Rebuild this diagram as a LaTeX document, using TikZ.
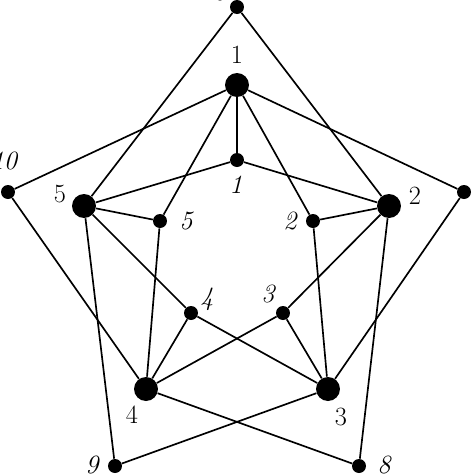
\documentclass[tikz,border=0pt]{standalone}
\begin{document}
\begin{tikzpicture}[x=0.02cm,y=-0.02cm,
  bigv/.style={circle,fill=black,inner sep=0pt,minimum size=0.48cm},
  smallv/.style={circle,fill=black,inner sep=0pt,minimum size=0.28cm},
  edge/.style={line width=0.95pt},
  biglab/.style={font=\fontsize{15}{17}\selectfont,inner sep=0pt},
  smlab/.style={font=\fontsize{15}{17}\selectfont\itshape,inner sep=0pt}]
\useasboundingbox (0,0) rectangle (474,474);
\clip (0,0) rectangle (474,474);
% vertices
\node[bigv] (B1) at (237,85) {};
\node[bigv] (B2) at (389,206) {};
\node[bigv] (B3) at (328,389) {};
\node[bigv] (B4) at (146,389) {};
\node[bigv] (B5) at (84,206) {};
\node[smallv] (i1) at (237,160) {};
\node[smallv] (i2) at (313,221) {};
\node[smallv] (i3) at (283,313) {};
\node[smallv] (i4) at (191,313) {};
\node[smallv] (i5) at (160,221) {};
\node[smallv] (o6) at (237,7) {};
\node[smallv] (o7) at (464,192) {};
\node[smallv] (o8) at (359,466) {};
\node[smallv] (o9) at (115,466) {};
\node[smallv] (o10) at (8,192) {};
% edges
\draw[edge] (B1) -- (o10);
\draw[edge] (B1) -- (o7);
\draw[edge] (B1) -- (i5);
\draw[edge] (B1) -- (i1);
\draw[edge] (B1) -- (i2);
\draw[edge] (o6) -- (B5);
\draw[edge] (o6) -- (B2);
\draw[edge] (i1) -- (B5);
\draw[edge] (i1) -- (B2);
\draw[edge] (B5) -- (i5);
\draw[edge] (B5) -- (i4);
\draw[edge] (B5) -- (o9);
\draw[edge] (B2) -- (i2);
\draw[edge] (B2) -- (i3);
\draw[edge] (B2) -- (o8);
\draw[edge] (o10) -- (B4);
\draw[edge] (o7) -- (B3);
\draw[edge] (i5) -- (B4);
\draw[edge] (i2) -- (B3);
\draw[edge] (i4) -- (B4);
\draw[edge] (i4) -- (B3);
\draw[edge] (i3) -- (B4);
\draw[edge] (i3) -- (B3);
\draw[edge] (B4) -- (o8);
\draw[edge] (B3) -- (o9);
% labels
\node[biglab] (L1) at (237,55) {1};
\node[biglab] (L2) at (415,196) {2};
\node[biglab] (L3) at (341,417) {3};
\node[biglab] (L4) at (132,415) {4};
\node[biglab] (L5) at (60,194) {5};
\node[smlab] (l1) at (236,185) {1};
\node[smlab] (l2) at (290,221) {2};
\node[smlab] (l3) at (268,294) {3};
\node[smlab] (l4) at (207,299) {4};
\node[smlab] (l5) at (186,221) {5};
\node[smlab] (l6) at (220,-8) {6};
\node[smlab] (l7) at (477,163) {7};
\node[smlab] (l8) at (384,465) {8};
\node[smlab] (l9) at (92,465) {9};
\node[smlab] (l10) at (4,161) {10};
\end{tikzpicture}
\end{document}
